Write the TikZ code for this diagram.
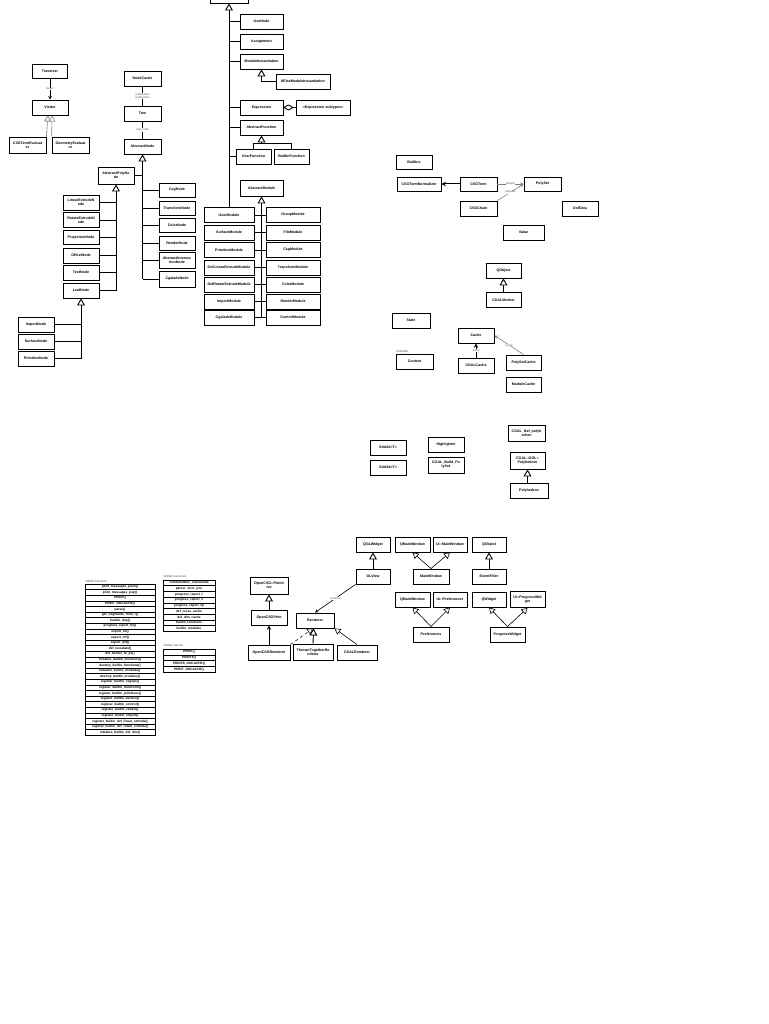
\documentclass[tikz,border=0pt]{standalone}
\usepackage{fontspec}
\setmainfont{Liberation Sans}
\usetikzlibrary{arrows,positioning,shapes.geometric}

\begin{document}
\begin{tikzpicture}[x=1pt,y=-1pt,
      cls/.style={rectangle, draw=black, line width=0.9pt, fill=white, minimum width=36, minimum height=15, inner sep=0.4pt, align=center, font=\fontsize{3.6}{3.9}\selectfont\bfseries},
      inh/.style={-open triangle 60, line width=0.9pt},
      tie/.style={line width=0.9pt},
      pfeil/.style={->, >=stealth, line width=0.6pt},
      lbl/.style={font=\fontsize{2.8}{3.1}\selectfont, text=gray!60!black, fill=white, inner sep=0.3pt, align=center},
      fn/.style={rectangle, draw=black, line width=0.6pt, fill=white, minimum height=5.6, inner sep=0.3pt, outer sep=0pt, font=\fontsize{3.2}{3.4}\selectfont\bfseries},
      grp/.style={font=\fontsize{3}{3.3}\selectfont, text=gray!60!black, anchor=south west, inner sep=0.4pt}]

\useasboundingbox[fill=white] (0,0) rectangle (768,1024);

% visitors
\node[cls, minimum width=35, minimum height=14] (trav) at (50,71) {Traverser};
\node[cls] (visitor) at (50,107.5) {Visitor};
\node[cls, minimum width=37, minimum height=16] (csgeval) at (27.5,145) {CSGTermEvaluat\\or};
\node[cls, minimum width=37, minimum height=16] (geomeval) at (70.5,145) {GeometryEvaluat\\or};
\draw[pfeil] (trav) -- node[lbl]{visitor} (visitor);
\draw[inh, draw=gray, line width=0.6pt] (csgeval.north east) -- (visitor.-105);
\draw[inh, draw=gray, line width=0.6pt] (geomeval.north west) -- (visitor.-75);

% node tree
\node[cls, minimum width=37] (nodecache) at (142.5,78.5) {NodeCache};
\node[cls, minimum width=37] (tree) at (142.5,113.5) {Tree};
\node[cls, minimum width=37] (absnode) at (142.5,146.5) {AbstractNode};
\draw[line width=0.6pt] (nodecache) -- node[lbl]{nodecache\\nodecache} (tree);
\draw[line width=0.6pt] (tree) -- node[lbl]{root\_node} (absnode);

\node[cls, minimum height=14] (csgnode) at (177,190) {CsgNode};
\node[cls, minimum height=14] (transformnode) at (177,208) {TransformNode};
\node[cls, minimum height=14] (colornode) at (177,225) {ColorNode};
\node[cls, minimum height=14] (rendernode) at (177,243) {RenderNode};
\node[cls, minimum height=16] (absintnode) at (177,260) {AbstractIntersec\\tionNode};
\node[cls, minimum height=16] (cgaladvnode) at (177,279) {CgaladvNode};
\node[cls, minimum height=17] (abspolynode) at (116,175.5) {AbstractPolyNo\\de};
\draw[inh] (absnode.south |- cgaladvnode.west) -- (absnode.south);
\draw[tie] (csgnode.west) -- (csgnode.west -| absnode.south);
\draw[tie] (transformnode.west) -- (transformnode.west -| absnode.south);
\draw[tie] (colornode.west) -- (colornode.west -| absnode.south);
\draw[tie] (rendernode.west) -- (rendernode.west -| absnode.south);
\draw[tie] (absintnode.west) -- (absintnode.west -| absnode.south);
\draw[tie] (cgaladvnode.west) -- (cgaladvnode.west -| absnode.south);
\draw[tie] (abspolynode.east) -- (abspolynode.east -| absnode.south);

\node[cls] (linextnode) at (81,202.5) {LinearExtrudeN\\ode};
\node[cls] (rotextnode) at (81,220) {RotateExtrudeN\\ode};
\node[cls, minimum height=14] (projnode) at (81,237.5) {ProjectionNode};
\node[cls] (offsetnode) at (81,255.5) {OffsetNode};
\node[cls] (textnode) at (81,272.5) {TextNode};
\node[cls] (leafnode) at (81,290.5) {LeafNode};
\draw[inh] (abspolynode.south |- leafnode.east) -- (abspolynode.south);
\draw[tie] (linextnode.east) -- (linextnode.east -| abspolynode.south);
\draw[tie] (rotextnode.east) -- (rotextnode.east -| abspolynode.south);
\draw[tie] (projnode.east) -- (projnode.east -| abspolynode.south);
\draw[tie] (offsetnode.east) -- (offsetnode.east -| abspolynode.south);
\draw[tie] (textnode.east) -- (textnode.east -| abspolynode.south);
\draw[tie] (leafnode.east) -- (leafnode.east -| abspolynode.south);

\node[cls] (importnode) at (36,324.5) {ImportNode};
\node[cls] (surfacenode) at (36,341.5) {SurfaceNode};
\node[cls] (primnode) at (36,358.5) {PrimitiveNode};
\draw[inh] (leafnode.south |- primnode.east) -- (leafnode.south);
\draw[tie] (importnode.east) -- (importnode.east -| leafnode.south);
\draw[tie] (surfacenode.east) -- (surfacenode.east -| leafnode.south);
\draw[tie] (primnode.east) -- (primnode.east -| leafnode.south);

% AST
\node[cls, minimum width=38, minimum height=26] (astnode) at (229,-10) {};
\node[cls, minimum width=43] (usenode) at (261.5,21.5) {UseNode};
\node[cls, minimum width=43] (assignment) at (261.5,41.5) {Assignment};
\node[cls, minimum width=43] (modinst) at (261.5,61.5) {ModuleInstantiation};
\node[cls, minimum width=54] (ifelse) at (303,81.5) {IfElseModuleInstantiation};
\node[cls, minimum width=43] (expression) at (261.5,107.5) {Expression};
\node[cls, minimum width=54] (exprsub) at (323,107.5) {<Expression subtypes>};
\node[cls, minimum width=43] (absfunc) at (261.5,127.5) {AbstractFunction};
\node[cls, minimum width=35] (userfunc) at (253.5,156.5) {UserFunction};
\node[cls, minimum width=35] (builtinfunc) at (291.5,156.5) {BuiltinFunction};
\node[cls, minimum width=43, minimum height=16] (absmodule) at (261.5,188) {AbstractModule};

\node[cls, minimum width=50] (usermodule) at (229,215) {UserModule};
\node[cls, minimum width=50] (surfacemodule) at (229,232.5) {SurfaceModule};
\node[cls, minimum width=50] (primmodule) at (229,250) {PrimitiveModule};
\node[cls, minimum width=50] (dxflinmodule) at (229,267.5) {DxfLinearExtrudeModule};
\node[cls, minimum width=50] (dxfrotmodule) at (229,284.5) {DxfRotateExtrudeModule};
\node[cls, minimum width=50] (importmodule) at (229,301.5) {ImportModule};
\node[cls, minimum width=50] (cgaladvmodule) at (229,317.5) {CgaladvModule};
\node[cls, minimum width=54] (groupmodule) at (293,215) {GroupModule};
\node[cls, minimum width=54] (filemodule) at (293,232.5) {FileModule};
\node[cls, minimum width=54] (csgmodule) at (293,250) {CsgModule};
\node[cls, minimum width=54] (transformmodule) at (293,267.5) {TransformModule};
\node[cls, minimum width=54] (colormodule) at (293,284.5) {ColorModule};
\node[cls, minimum width=54] (rendermodule) at (293,301.5) {RenderModule};
\node[cls, minimum width=54] (controlmodule) at (293,317.5) {ControlModule};

\draw[inh] (usermodule.north) -- (astnode.south);
\draw[tie] (usenode.west) -- (usenode.west -| astnode.south);
\draw[tie] (assignment.west) -- (assignment.west -| astnode.south);
\draw[tie] (modinst.west) -- (modinst.west -| astnode.south);
\draw[tie] (expression.west) -- (expression.west -| astnode.south);
\draw[tie] (absfunc.west) -- (absfunc.west -| astnode.south);
\draw[tie] (userfunc.west) -- (userfunc.west -| astnode.south);
\draw[inh] (ifelse.west) -| (modinst.south);
\draw[open diamond-, line width=0.9pt] (expression) -- (exprsub);
\path (absfunc.south) ++(0,8) coordinate (fbar);
\draw[inh] (fbar) -- (absfunc.south);
\draw[tie] (userfunc.north) |- (fbar) -| (builtinfunc.north);

\draw[inh] (absmodule.south |- cgaladvmodule.east) -- (absmodule.south);
\draw[tie] (usermodule.east) -- (groupmodule.west);
\draw[tie] (surfacemodule.east) -- (filemodule.west);
\draw[tie] (primmodule.east) -- (csgmodule.west);
\draw[tie] (dxflinmodule.east) -- (transformmodule.west);
\draw[tie] (dxfrotmodule.east) -- (colormodule.west);
\draw[tie] (importmodule.east) -- (rendermodule.west);
\draw[tie] (cgaladvmodule.east) -- (controlmodule.west);

% csg terms
\node[cls, minimum height=14] (builtins) at (414,162) {BuiltIns};
\node[cls, minimum width=44, minimum height=14] (csgnorm) at (419,184) {CSGTermNormalizer};
\node[cls, minimum width=37, minimum height=14] (csgterm) at (478.5,184) {CSGTerm};
\node[cls, minimum width=37, minimum height=14] (polyset) at (542.5,184) {PolySet};
\node[cls, minimum width=37] (csgchain) at (478.5,208.5) {CSGChain};
\node[cls] (dxfdata) at (580,208.5) {DxfData};
\node[cls, minimum width=41] (value) at (523.5,232.5) {Value};
\draw[pfeil, line width=1pt] (csgterm) -- (csgnorm);
\draw[pfeil, draw=gray] (csgterm) -- node[lbl]{polyset} (polyset);
\draw[pfeil, draw=gray] (csgchain.north east) -- node[lbl]{polysets} (polyset.west);

% workers and caches
\node[cls, minimum width=35] (qobject) at (503.5,270.5) {QObject};
\node[cls, minimum width=35] (cgalworker) at (503.5,300) {CGALWorker};
\draw[inh] (cgalworker) -- (qobject);
\node[cls, minimum width=38] (state) at (411,320.5) {State};
\node[cls, minimum width=37] (context) at (414.5,361.5) {Context};
\node[grp] at (context.north west) {Compiler:};
\node[cls] (cache) at (476,335.5) {Cache};
\node[cls] (cgalcache) at (476,365.5) {CGALCache};
\node[cls, minimum width=35] (polysetcache) at (523.5,362.5) {PolySetCache};
\node[cls, minimum width=35] (modulecache) at (523.5,384.5) {ModuleCache};
\draw[pfeil, line width=0.9pt] (cgalcache) -- node[lbl]{cache} (cache);
\draw[pfeil, draw=gray] (polysetcache.north) -- node[lbl]{cache} (cache.east);

% geometry helpers
\node[cls] (grid2d) at (388,447.5) {Grid2d<T>};
\node[cls] (grid3d) at (388,467.5) {Grid3d<T>};
\node[cls] (highlighter) at (446,444.5) {Highlighter};
\node[cls, minimum height=16] (cgalbuild) at (446,465) {CGAL\_Build\_Po\\lySet};
\node[cls, minimum width=37, minimum height=16] (cgalnef) at (526.5,433) {CGAL\_Nef\_polyh\\edron};
\node[cls, minimum width=35, minimum height=17] (oglpoly) at (527.5,460.5) {CGAL::OGL::\\Polyhedron};
\node[cls, minimum width=38] (polyhedron) at (529,490.5) {Polyhedron};
\draw[inh] (polyhedron.north -| oglpoly.south) -- (oglpoly.south);

% gui
\node[cls, minimum width=34] (qglwidget) at (373,544.5) {QGLWidget};
\node[cls, minimum width=35] (qmainwin) at (412.5,544.5) {QMainWindow};
\node[cls, minimum width=34] (uimainwin) at (450,544.5) {Ui::MainWindow};
\node[cls, minimum width=34] (qobjectgui) at (489,544.5) {QObject};
\node[cls, minimum width=34] (glview) at (373,576.5) {GLView};
\node[cls] (mainwindow) at (431,576.5) {MainWindow};
\node[cls, minimum width=34] (eventfilter) at (489,576.5) {EventFilter};
\node[cls, minimum width=35] (qmainwinpref) at (412.5,599.5) {QMainWindow};
\node[cls, minimum width=34] (uiprefs) at (450,599.5) {Ui::Preferences};
\node[cls] (prefs) at (431,634.5) {Preferences};
\node[cls, minimum width=34] (qwidget) at (489,599.5) {QWidget};
\node[cls, minimum width=35, minimum height=16] (uiprogress) at (527.5,599.5) {Ui::ProgressWid\\get};
\node[cls, minimum width=35] (progresswidget) at (507.5,634.5) {ProgressWidget};
\draw[inh] (glview) -- (qglwidget);
\draw[inh, line width=0.6pt] (mainwindow.north) -- (qmainwin.south);
\draw[inh, line width=0.6pt] (mainwindow.north) -- (uimainwin.south);
\draw[inh] (eventfilter) -- (qobjectgui);
\draw[inh, line width=0.6pt] (prefs.north) -- (qmainwinpref.south);
\draw[inh, line width=0.6pt] (prefs.north) -- (uiprefs.south);
\draw[inh, line width=0.6pt] (progresswidget.north) -- (qwidget.south);
\draw[inh, line width=0.6pt] (progresswidget.north) -- (uiprogress.south);

% renderers
\node[cls, minimum width=38, minimum height=17] (ocsgprimitive) at (269,585.5) {OpenCSG::Primit\\ive};
\node[cls] (ocsgprim) at (269,617.5) {OpenCSGPrim};
\node[cls, minimum width=38] (renderer) at (315,620.5) {Renderer};
\node[cls, minimum width=42] (ocsgrenderer) at (269,652.5) {OpenCSGRenderer};
\node[cls, minimum width=40, minimum height=16] (ttrenderer) at (313,652) {ThrownTogetherRe\\nderer};
\node[cls, minimum width=40] (cgalrenderer) at (357,652.5) {CGALRenderer};
\draw[inh] (ocsgprim) -- (ocsgprimitive);
\draw[pfeil, line width=0.9pt] (ocsgrenderer) -- (ocsgprim);
\draw[pfeil] (glview.south west) -- node[lbl]{renderer} (renderer.north);
\draw[inh, dashed, line width=0.5pt] (ocsgrenderer.north east) -- (renderer.-105);
\draw[inh] (ttrenderer.north) -- (renderer.-100);
\draw[inh, line width=0.6pt] (cgalrenderer.north) -- (renderer.south east);

% globals
\node[grp] (gflabel) at (85,583) {Global functions};
\node[fn, minimum width=70, anchor=north west] (gf1) at (85,584) {print\_messages\_push()};
\node[fn, minimum width=70, below=0pt of gf1.south west, anchor=north west] (gf2) {print\_messages\_pop()};
\node[fn, minimum width=70, below=0pt of gf2.south west, anchor=north west] (gf3) {PRINT()};
\node[fn, minimum width=70, below=0pt of gf3.south west, anchor=north west] (gf4) {PRINT\_NOCACHE()};
\node[fn, minimum width=70, below=0pt of gf4.south west, anchor=north west] (gf5) {parse()};
\node[fn, minimum width=70, below=0pt of gf5.south west, anchor=north west] (gf6) {get\_fragments\_from\_r()};
\node[fn, minimum width=70, below=0pt of gf6.south west, anchor=north west] (gf7) {handle\_dep()};
\node[fn, minimum width=70, below=0pt of gf7.south west, anchor=north west] (gf8) {progress\_report\_fin()};
\node[fn, minimum width=70, below=0pt of gf8.south west, anchor=north west] (gf9) {export\_stl()};
\node[fn, minimum width=70, below=0pt of gf9.south west, anchor=north west] (gf10) {export\_off()};
\node[fn, minimum width=70, below=0pt of gf10.south west, anchor=north west] (gf11) {export\_dxf()};
\node[fn, minimum width=70, below=0pt of gf11.south west, anchor=north west] (gf12) {dxf\_tesselate()};
\node[fn, minimum width=70, below=0pt of gf12.south west, anchor=north west] (gf13) {dxf\_border\_to\_ps()};
\node[fn, minimum width=70, below=0pt of gf13.south west, anchor=north west] (gf14) {initialize\_builtin\_functions()};
\node[fn, minimum width=70, below=0pt of gf14.south west, anchor=north west] (gf15) {destroy\_builtin\_functions()};
\node[fn, minimum width=70, below=0pt of gf15.south west, anchor=north west] (gf16) {initialize\_builtin\_modules()};
\node[fn, minimum width=70, below=0pt of gf16.south west, anchor=north west] (gf17) {destroy\_builtin\_modules()};
\node[fn, minimum width=70, below=0pt of gf17.south west, anchor=north west] (gf18) {register\_builtin\_csgops()};
\node[fn, minimum width=70, below=0pt of gf18.south west, anchor=north west] (gf19) {register\_builtin\_transform()};
\node[fn, minimum width=70, below=0pt of gf19.south west, anchor=north west] (gf20) {register\_builtin\_primitives()};
\node[fn, minimum width=70, below=0pt of gf20.south west, anchor=north west] (gf21) {register\_builtin\_surface()};
\node[fn, minimum width=70, below=0pt of gf21.south west, anchor=north west] (gf22) {register\_builtin\_control()};
\node[fn, minimum width=70, below=0pt of gf22.south west, anchor=north west] (gf23) {register\_builtin\_render()};
\node[fn, minimum width=70, below=0pt of gf23.south west, anchor=north west] (gf24) {register\_builtin\_import()};
\node[fn, minimum width=70, below=0pt of gf24.south west, anchor=north west] (gf25) {register\_builtin\_dxf\_linear\_extrude()};
\node[fn, minimum width=70, below=0pt of gf25.south west, anchor=north west] (gf26) {register\_builtin\_dxf\_rotate\_extrude()};
\node[fn, minimum width=70, below=0pt of gf26.south west, anchor=north west] (gf27) {initialize\_builtin\_dxf\_dim()};

\node[grp] (grlabel) at (163,578.5) {Global resources};
\node[fn, minimum width=52, minimum height=5.7, anchor=north west] (gr1) at (163,580) {commandline\_commands};
\node[fn, minimum width=52, minimum height=5.7, below=0pt of gr1.south west, anchor=north west] (gr2) {parser\_error\_pos};
\node[fn, minimum width=52, minimum height=5.7, below=0pt of gr2.south west, anchor=north west] (gr3) {progress\_report\_f};
\node[fn, minimum width=52, minimum height=5.7, below=0pt of gr3.south west, anchor=north west] (gr4) {progress\_report\_v};
\node[fn, minimum width=52, minimum height=5.7, below=0pt of gr4.south west, anchor=north west] (gr5) {progress\_report\_vp};
\node[fn, minimum width=52, minimum height=5.7, below=0pt of gr5.south west, anchor=north west] (gr6) {dxf\_cross\_cache};
\node[fn, minimum width=52, minimum height=5.7, below=0pt of gr6.south west, anchor=north west] (gr7) {dxf\_dim\_cache};
\node[fn, minimum width=52, minimum height=5.7, below=0pt of gr7.south west, anchor=north west] (gr8) {builtin\_functions};
\node[fn, minimum width=52, minimum height=5.7, below=0pt of gr8.south west, anchor=north west] (gr9) {builtin\_modules};

\node[grp] (gmlabel) at (163,647.5) {Global macros};
\node[fn, minimum width=52, minimum height=5.8, anchor=north west] (gm1) at (163,649) {PRINT()};
\node[fn, minimum width=52, minimum height=5.8, below=0pt of gm1.south west, anchor=north west] (gm2) {PRINTF()};
\node[fn, minimum width=52, minimum height=5.8, below=0pt of gm2.south west, anchor=north west] (gm3) {PRINTB\_NOCACHE()};
\node[fn, minimum width=52, minimum height=5.8, below=0pt of gm3.south west, anchor=north west] (gm4) {PRINT\_NOCACHE()};

\end{tikzpicture}
\end{document}
